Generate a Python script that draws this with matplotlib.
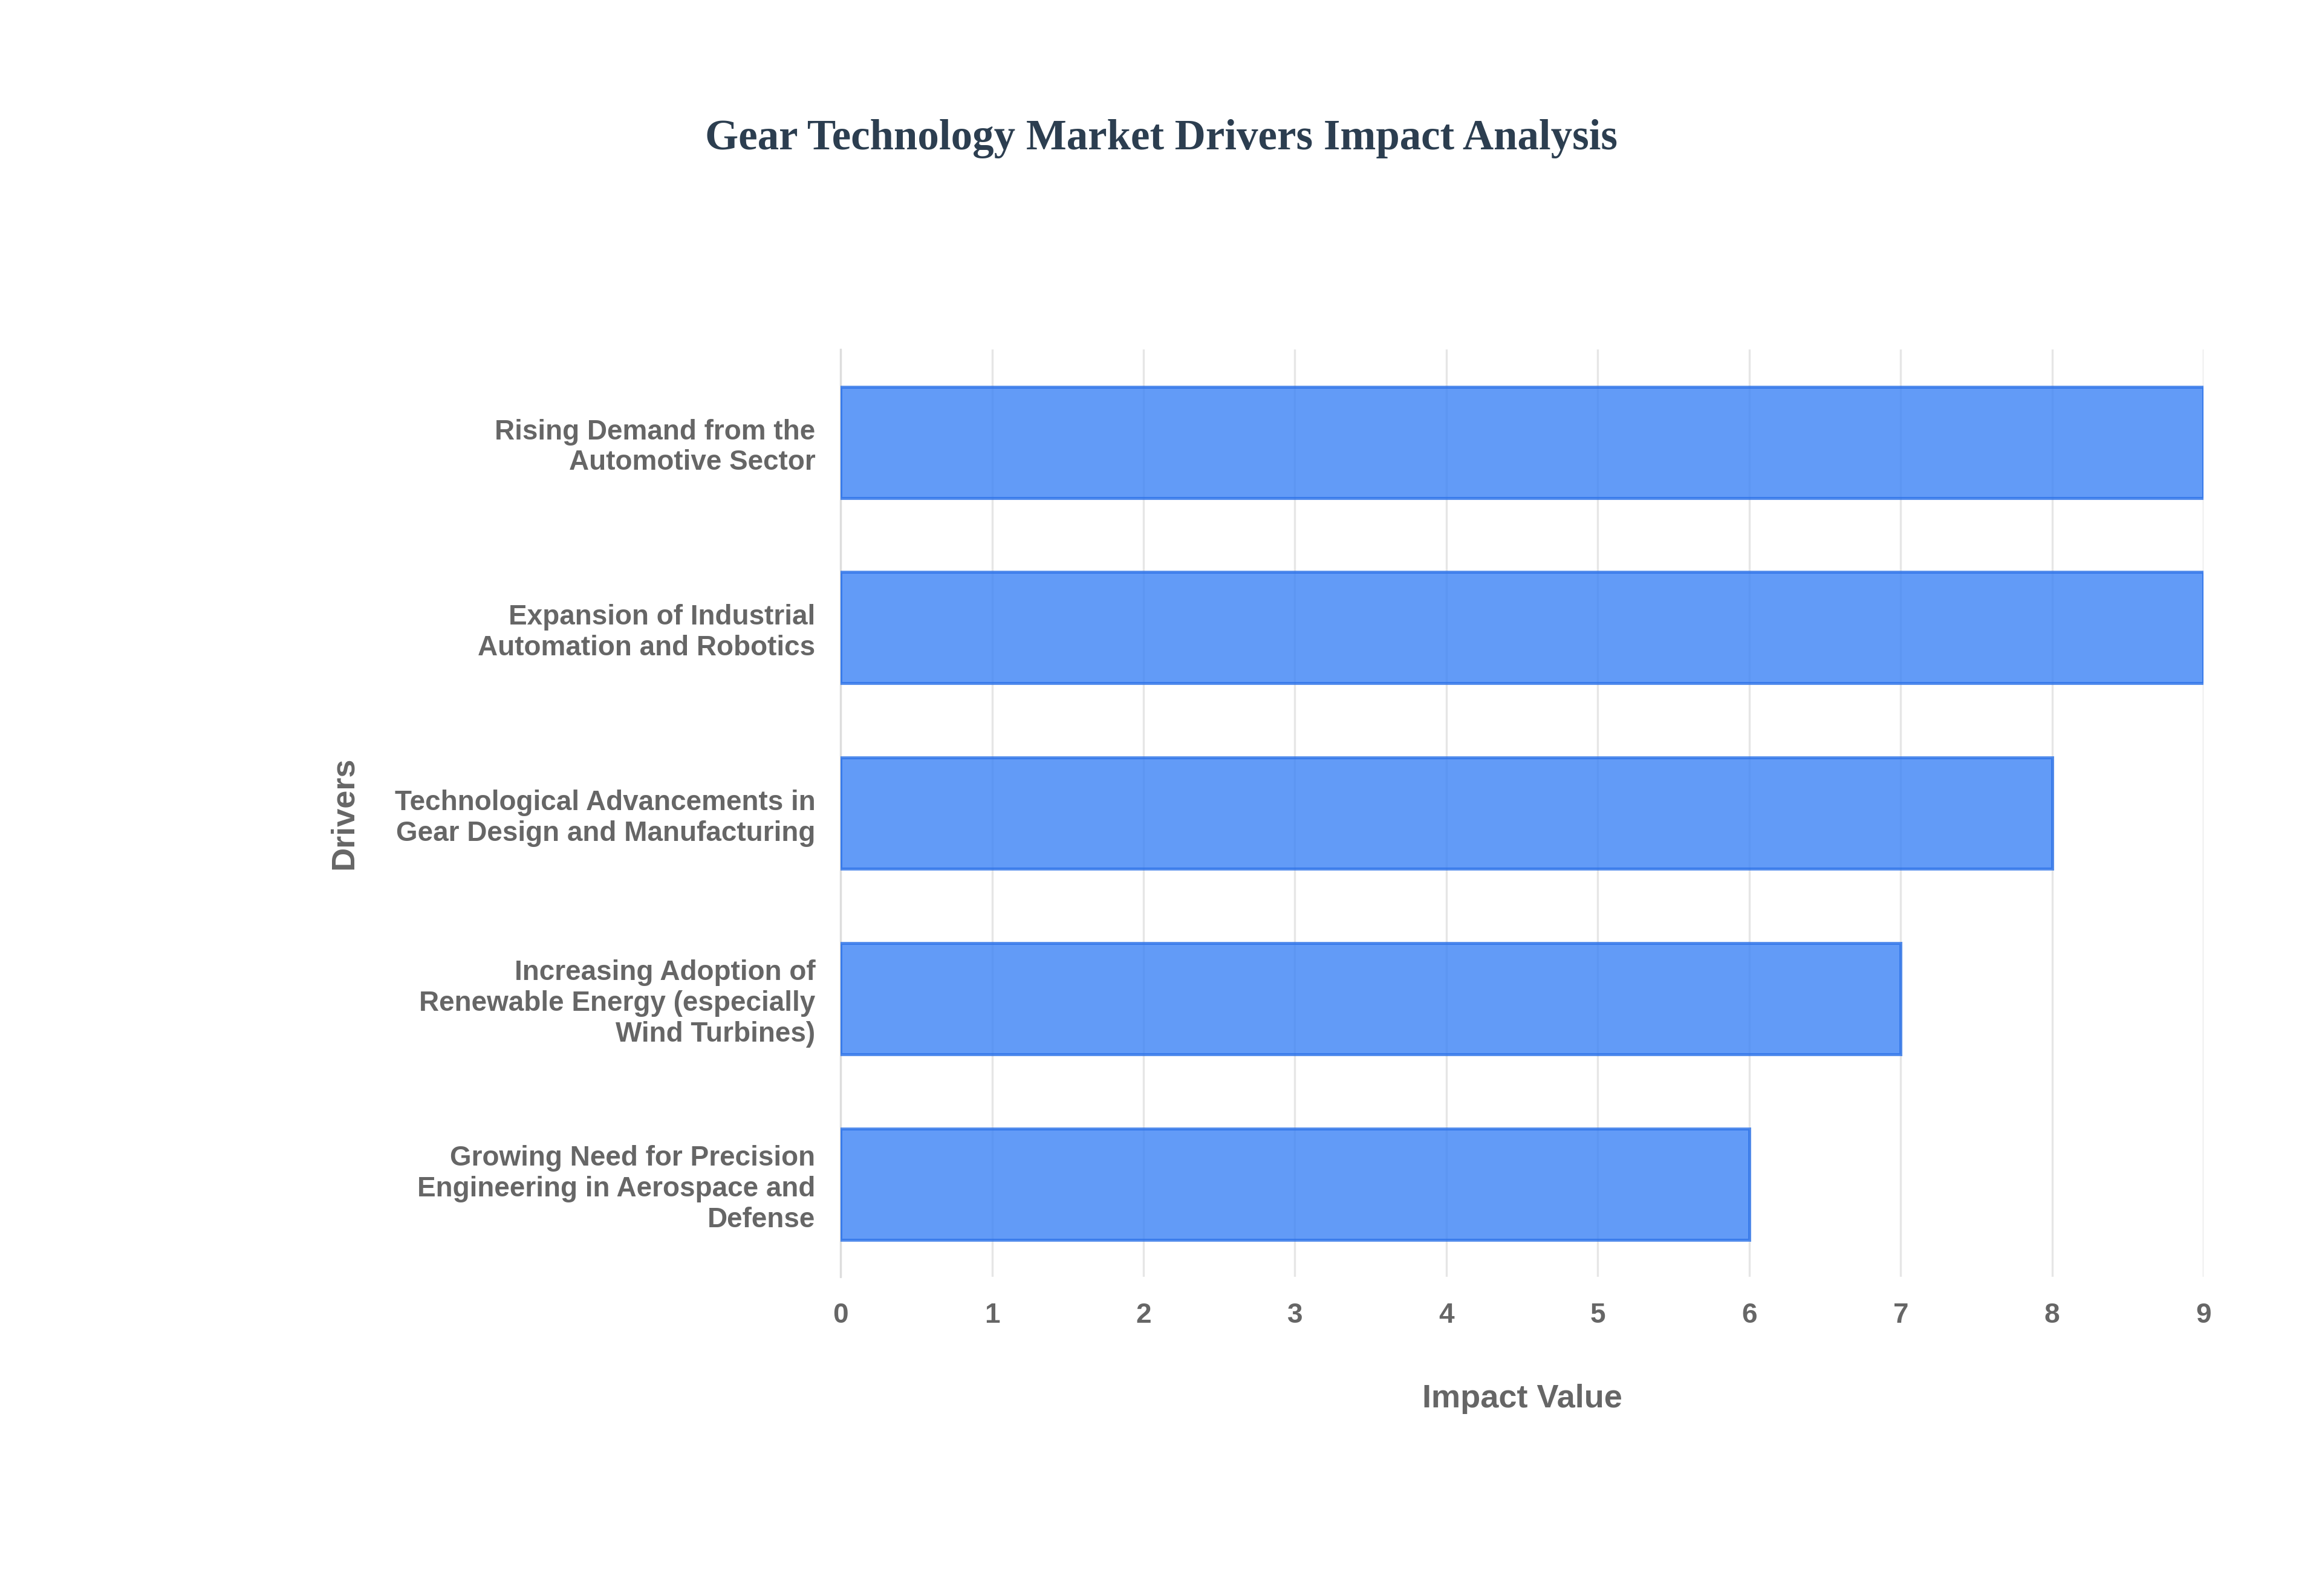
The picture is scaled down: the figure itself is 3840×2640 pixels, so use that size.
import matplotlib
matplotlib.use('Agg')
import matplotlib.pyplot as plt

drivers = [
    'Rising Demand from the\nAutomotive Sector',
    'Expansion of Industrial\nAutomation and Robotics',
    'Technological Advancements in\nGear Design and Manufacturing',
    'Increasing Adoption of\nRenewable Energy (especially\nWind Turbines)',
    'Growing Need for Precision\nEngineering in Aerospace and\nDefense',
]
impact = [9, 9, 8, 7, 6]

plt.rcParams['font.family'] = ['Liberation Sans', 'DejaVu Sans']

fig = plt.figure(figsize=(12.8, 8.8), dpi=300)
ax = fig.add_axes([0.362, 0.2, 0.587, 0.581])

ypos = list(range(len(drivers)))[::-1]
ax.barh(ypos, impact, height=0.6, color='#3b82f6', alpha=0.8,
        edgecolor='#2f74e8', linewidth=1.2, zorder=3)

ax.set_xlim(0, 9)
ax.set_ylim(-0.5, 4.5)
ax.set_xticks(range(10))
ax.set_yticks(ypos)
ax.set_yticklabels(drivers)
ax.grid(axis='x', color='#e6e6e6', linewidth=0.8, zorder=0)
for s in ['top', 'right', 'bottom']:
    ax.spines[s].set_visible(False)
ax.spines['left'].set_color('#dddddd')
ax.tick_params(axis='both', length=0, labelsize=11, labelcolor='#666666', pad=10)
for lab in ax.get_xticklabels() + ax.get_yticklabels():
    lab.set_fontweight('bold')

ax.set_xlabel('Impact Value', fontsize=13, fontweight='bold', color='#666666', labelpad=22)
ax.set_ylabel('Drivers', fontsize=13, fontweight='bold', color='#666666', labelpad=14)

fig.text(0.5, 0.913, 'Gear Technology Market Drivers Impact Analysis',
         ha='center', va='center', fontsize=17, fontweight='bold',
         color='#2c3e50', family='Liberation Serif')

fig.savefig('out.png', dpi=300, facecolor='white')
